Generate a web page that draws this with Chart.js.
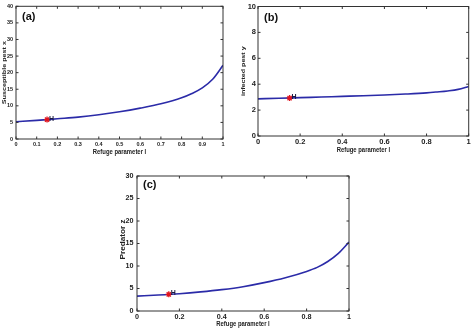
<!DOCTYPE html>
<html>
<head>
<meta charset="utf-8">
<script src="https://cdn.jsdelivr.net/npm/chart.js@4/dist/chart.umd.min.js"></script>
<style>
html, body { margin: 0; padding: 0; background: #fff; }
body { width: 474px; height: 329px; position: relative; overflow: hidden; }
canvas { position: absolute; }
</style>
</head>
<body>
<canvas id="pa" width="232" height="162" style="left:0;top:0"></canvas>
<canvas id="pb" width="237" height="160" style="left:237px;top:0"></canvas>
<canvas id="pc" width="250" height="164" style="left:110px;top:165px"></canvas>
<script>
// refuge parameter l and the steady state values along it
const refuge = [0, 0.1, 0.2, 0.3, 0.4, 0.5, 0.6, 0.7, 0.8, 0.85, 0.9, 0.95, 1];
const susceptibleX = [5.2, 5.6, 6.1, 6.6, 7.3, 8.2, 9.3, 10.6, 12.4, 13.7, 15.4, 18.0, 22.2];
const infectedY = [2.87, 2.91, 2.96, 3.01, 3.06, 3.11, 3.17, 3.24, 3.33, 3.40, 3.48, 3.60, 3.83];
const predatorZ = [3.3, 3.55, 3.85, 4.25, 4.75, 5.4, 6.3, 7.4, 8.8, 9.7, 11.0, 12.8, 15.3];

// Hopf point H
const hopfL = 0.15;
const hopfX = 5.85;
const hopfY = 2.93;
const hopfZ = 3.7;

// tick labels
const xTicksFine = [0, 0.1, 0.2, 0.3, 0.4, 0.5, 0.6, 0.7, 0.8, 0.9, 1];
const xTicksCoarse = [0, 0.2, 0.4, 0.6, 0.8, 1];
const yTicksA = [0, 5, 10, 15, 20, 25, 30, 35, 40];
const yTicksB = [0, 2, 4, 6, 8, 10];
const yTicksC = [0, 5, 10, 15, 20, 25, 30];

const FAM = "'Liberation Sans', Arial, sans-serif";
const INK = '#222';
const SQUEEZE = 0.82; // text in the figure is a bit narrower than it is tall

// matlab style box with inward ticks, axis titles, panel tag and the H label
const frame = {
  id: 'frame',
  afterDatasetsDraw(chart, args, opts) {
    const {ctx, chartArea: a, scales: {x, y}} = chart;
    const tl = 2.5;
    ctx.save();
    ctx.strokeStyle = '#333';
    ctx.lineWidth = 1;
    ctx.strokeRect(a.left, a.top, a.width, a.height);
    ctx.beginPath();
    x.ticks.forEach(t => {
      const px = x.getPixelForValue(t.value);
      ctx.moveTo(px, a.bottom); ctx.lineTo(px, a.bottom - tl);
      ctx.moveTo(px, a.top); ctx.lineTo(px, a.top + tl);
    });
    y.ticks.forEach(t => {
      const py = y.getPixelForValue(t.value);
      ctx.moveTo(a.left, py); ctx.lineTo(a.left + tl, py);
      ctx.moveTo(a.right, py); ctx.lineTo(a.right - tl, py);
    });
    ctx.stroke();

    ctx.textBaseline = 'middle';
    ctx.textAlign = 'center';
    ctx.fillStyle = INK;

    // x title
    ctx.save();
    ctx.translate((a.left + a.right) / 2, a.bottom + opts.xTitleDy);
    ctx.scale(SQUEEZE, 1);
    ctx.font = 'bold 7.2px ' + FAM;
    ctx.fillText(opts.xTitle, 0, 0);
    ctx.restore();

    // y title
    ctx.save();
    ctx.translate(a.left - opts.yTitleDx, (a.top + a.bottom) / 2 + opts.yTitleDy);
    ctx.rotate(-Math.PI / 2);
    ctx.scale(1, SQUEEZE);
    ctx.font = 'bold ' + opts.yTitleSize + 'px ' + FAM;
    ctx.fillText(opts.yTitle, 0, 0);
    ctx.restore();

    ctx.fillStyle = '#111';
    ctx.font = 'bold 11px ' + FAM;
    ctx.textAlign = 'left';
    ctx.fillText(opts.tag, a.left + 6, a.top + opts.tagDy);

    const hp = chart.getDatasetMeta(0).data[0];
    ctx.fillStyle = '#1a1a40';
    ctx.font = 'bold 7px ' + FAM;
    ctx.fillText('H', hp.x + 2, hp.y - 1);
    ctx.restore();
  }
};

function panel(id, o) {
  return new Chart(document.getElementById(id), {
    type: 'scatter',
    data: {
      datasets: [
        {
          data: [{x: hopfL, y: o.hopf}],
          pointStyle: 'star',
          pointRadius: 3,
          borderColor: '#e0141e',
          backgroundColor: '#e0141e',
          borderWidth: 1.3
        },
        {
          data: o.values.map((v, i) => ({x: refuge[i], y: v})),
          showLine: true,
          borderColor: '#2b2ba8',
          borderWidth: 1.6,
          pointRadius: 0,
          cubicInterpolationMode: 'monotone'
        }
      ]
    },
    options: {
      responsive: false,
      animation: false,
      events: [],
      layout: {padding: o.pad},
      plugins: {
        legend: {display: false},
        tooltip: {enabled: false},
        frame: {
          tag: o.tag, tagDy: o.tagDy,
          xTitle: 'Refuge parameter l', xTitleDy: o.xTitleDy,
          yTitle: o.yTitle, yTitleDx: o.yTitleDx, yTitleDy: o.yTitleDy || 0,
          yTitleSize: o.yTitleSize
        }
      },
      scales: {
        x: {
          type: 'linear', min: 0, max: 1,
          afterBuildTicks: s => { s.ticks = o.xTicks.map(v => ({value: v})); },
          afterFit: s => { s.height = o.xh; },
          grid: {display: false, drawTicks: false},
          border: {display: false},
          ticks: {
            autoSkip: false, maxRotation: 0, padding: o.xtPad, color: INK,
            font: {family: FAM, size: o.tickSize, weight: 'bold'},
            callback: v => String(v)
          }
        },
        y: {
          type: 'linear', min: o.yTicks[0], max: o.yTicks[o.yTicks.length - 1],
          afterBuildTicks: s => { s.ticks = o.yTicks.map(v => ({value: v})); },
          afterFit: s => { s.width = o.yw; },
          grid: {display: false, drawTicks: false},
          border: {display: false},
          ticks: {
            autoSkip: false, padding: o.ytPad, color: INK,
            font: {family: FAM, size: o.tickSize, weight: 'bold'},
            callback: v => String(v)
          }
        }
      }
    },
    plugins: [frame]
  });
}

panel('pa', {
  values: susceptibleX, hopf: hopfX, tag: '(a)', tagDy: 11,
  xTicks: xTicksFine, yTicks: yTicksA, yTitle: 'Susceptible pest x',
  pad: {left: 0, top: 5, right: 9, bottom: 0}, yw: 16, xh: 23,
  tickSize: 5.5, xtPad: 2, ytPad: 3,
  xTitleDy: 13, yTitleDx: 12, yTitleSize: 7.2
});

panel('pb', {
  values: infectedY, hopf: hopfY, tag: '(b)', tagDy: 11,
  xTicks: xTicksCoarse, yTicks: yTicksB, yTitle: 'infected pest y',
  pad: {left: 0, top: 5, right: 4, bottom: 0}, yw: 21, xh: 24,
  tickSize: 7.5, xtPad: 1, ytPad: 2,
  xTitleDy: 14.5, yTitleDx: 14.3, yTitleSize: 7.1
});

panel('pc', {
  values: predatorZ, hopf: hopfZ, tag: '(c)', tagDy: 8.5,
  xTicks: xTicksCoarse, yTicks: yTicksC, yTitle: 'Predator z',
  pad: {left: 0, top: 11, right: 11, bottom: 0}, yw: 27, xh: 18,
  tickSize: 7.2, xtPad: 1.5, ytPad: 3.5,
  xTitleDy: 13.3, yTitleDx: 14, yTitleDy: -4, yTitleSize: 8.2
});
</script>
</body>
</html>
